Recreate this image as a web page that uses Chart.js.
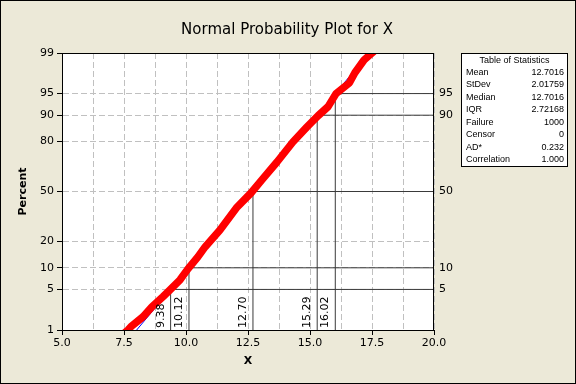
<!DOCTYPE html>
<html>
<head>
<meta charset="utf-8">
<script src="https://cdn.jsdelivr.net/npm/chart.js@4"></script>
<style>
  body { margin: 0; background: #ECE9D8; }
  canvas { display: block; }
</style>
</head>
<body>
<canvas id="probChart" width="576" height="384"></canvas>
<script>
// puncte (x, procent)
const dataX = [7.55, 7.66, 7.78, 8.27, 8.63, 9.07, 9.35, 9.76, 10.08, 10.48, 10.77, 11.37, 12.06, 12.62, 13.06, 13.67, 14.31, 14.88, 15.32, 15.73, 16.05, 16.59, 16.81, 17.18, 17.50, 17.60];
const dataPct = [0.9, 1.0, 1.16, 1.77, 2.65, 3.86, 4.9, 6.9, 9.7, 13.6, 17.6, 25.9, 39.7, 49.0, 57.7, 69.0, 79.7, 86.1, 89.8, 92.3, 95.0, 96.6, 97.7, 98.64, 99.0, 99.1];

// dreapta ajustată (albastru)
const fitX = [8.01, 17.39];
const fitPct = [1, 99];

// liniile de referință
const refPct = [5, 10, 50, 90, 95];
const refX = [9.38, 10.12, 12.70, 15.29, 16.02];

const yTickPct = [1, 5, 10, 20, 50, 80, 90, 95, 99];

const titleText = "Normal Probability Plot for X";
const statNames = ["Mean", "StDev", "Median", "IQR", "Failure", "Censor", "AD*", "Correlation"];
const statValues = ["12.7016", "2.01759", "12.7016", "2.72168", "1000", "0", "0.232", "1.000"];

// inversa funcției de repartiție normală (Acklam)
function probit(p) {
    const a = [-3.969683028665376e+01, 2.209460984245205e+02, -2.759285104469687e+02, 1.383577518672690e+02, -3.066479806614716e+01, 2.506628277459239e+00];
    const b = [-5.447609879822406e+01, 1.615858368580409e+02, -1.556989798598866e+02, 6.680131188771972e+01, -1.328068155288572e+01];
    const c = [-7.784894002430293e-03, -3.223964580411365e-01, -2.400758277161838e+00, -2.549732539343734e+00, 4.374664141464968e+00, 2.938163982698783e+00];
    const d = [7.784695709041462e-03, 3.224671290700398e-01, 2.445134137142996e+00, 3.754408661907416e+00];
    const pl = 0.02425;
    if (p < pl) {
        const q = Math.sqrt(-2 * Math.log(p));
        return (((((c[0]*q+c[1])*q+c[2])*q+c[3])*q+c[4])*q+c[5]) / ((((d[0]*q+d[1])*q+d[2])*q+d[3])*q+1);
    }
    if (p > 1 - pl) {
        const q = Math.sqrt(-2 * Math.log(1 - p));
        return -(((((c[0]*q+c[1])*q+c[2])*q+c[3])*q+c[4])*q+c[5]) / ((((d[0]*q+d[1])*q+d[2])*q+d[3])*q+1);
    }
    const q = p - 0.5, r = q * q;
    return (((((a[0]*r+a[1])*r+a[2])*r+a[3])*r+a[4])*r+a[5])*q / (((((b[0]*r+b[1])*r+b[2])*r+b[3])*r+b[4])*r+1);
}

function isMajor(v) {
    return Math.abs(v / 2.5 - Math.round(v / 2.5)) < 1e-6;
}

Chart.defaults.font.family = "'DejaVu Sans', sans-serif";
Chart.defaults.color = "#000";

const datasets = [];
datasets.push({
    data: dataX.map((x, i) => ({ x: x, y: probit(dataPct[i] / 100) })),
    showLine: true,
    borderColor: "#ff0000",
    borderWidth: 7.5,
    borderCapStyle: "round",
    borderJoinStyle: "round",
    pointRadius: 0,
    clip: 0,
    order: 0
});
datasets.push({
    data: fitX.map((x, i) => ({ x: x, y: probit(fitPct[i] / 100) })),
    showLine: true,
    borderColor: "#0000ff",
    borderWidth: 1,
    pointRadius: 0,
    clip: 0,
    order: 2
});
refPct.forEach((p, i) => {
    datasets.push({
        data: [
            { x: refX[i], y: probit(0.01) },
            { x: refX[i], y: probit(p / 100) },
            { x: 20, y: probit(p / 100) }
        ],
        showLine: true,
        borderColor: "#3a3a3a",
        borderWidth: 1,
        pointRadius: 0,
        clip: 0,
        order: 1
    });
});

const extras = {
    id: "extras",
    beforeDraw(chart) {
        const ctx = chart.ctx;
        const a = chart.chartArea;
        ctx.save();
        ctx.fillStyle = "#ECE9D8";
        ctx.fillRect(0, 0, chart.width, chart.height);
        ctx.fillStyle = "#fff";
        ctx.fillRect(a.left, a.top, a.right - a.left, a.bottom - a.top);
        // titlu
        ctx.fillStyle = "#000";
        ctx.font = "15px 'DejaVu Sans'";
        ctx.textAlign = "center";
        ctx.textBaseline = "middle";
        ctx.fillText(titleText, 287, 30);
        ctx.restore();
    },
    afterDatasetsDraw(chart) {
        const ctx = chart.ctx;
        const a = chart.chartArea;
        const xs = chart.scales.x, ys = chart.scales.y;
        ctx.save();
        // cadru zona grafic
        ctx.strokeStyle = "#000";
        ctx.lineWidth = 1;
        ctx.strokeRect(a.left + 0.5, a.top + 0.5, a.right - a.left - 1, a.bottom - a.top);
        // cadru exterior
        ctx.strokeRect(0.5, 0.5, chart.width - 1, chart.height - 1);

        // etichete la dreapta
        ctx.font = "11px 'DejaVu Sans'";
        ctx.fillStyle = "#000";
        ctx.textAlign = "left";
        ctx.textBaseline = "middle";
        refPct.forEach(p => {
            ctx.fillText(String(p), a.right + 5, ys.getPixelForValue(probit(p / 100)));
        });

        // etichete verticale
        ctx.textBaseline = "alphabetic";
        refX.forEach(v => {
            const px = xs.getPixelForValue(v);
            ctx.save();
            ctx.translate(px - 7, a.bottom - 2);
            ctx.rotate(-Math.PI / 2);
            ctx.fillText(v.toFixed(2), 0, 0);
            ctx.restore();
        });

        // tabel de statistici
        const bx = 461, by = 53, bw = 107, bh = 114;
        ctx.fillStyle = "#fff";
        ctx.fillRect(bx, by, bw, bh);
        ctx.strokeRect(bx + 0.5, by + 0.5, bw - 1, bh - 1);
        ctx.fillStyle = "#000";
        ctx.font = "9px 'Liberation Sans'";
        ctx.textBaseline = "middle";
        ctx.textAlign = "center";
        ctx.fillText("Table of Statistics", bx + bw / 2, by + 8);
        statNames.forEach((n, i) => {
            const y = by + 19.5 + i * 12.5;
            ctx.textAlign = "left";
            ctx.fillText(n, bx + 5, y);
            ctx.textAlign = "right";
            ctx.fillText(statValues[i], bx + bw - 4, y);
        });
        ctx.restore();
    }
};

new Chart(document.getElementById("probChart"), {
    type: "scatter",
    data: { datasets: datasets },
    options: {
        responsive: false,
        animation: false,
        events: [],
        layout: { padding: { left: 0, top: 53, right: 142, bottom: 0 } },
        plugins: {
            legend: { display: false },
            tooltip: { enabled: false },
            title: { display: false }
        },
        scales: {
            x: {
                type: "linear",
                min: 5,
                max: 20,
                afterFit(scale) { scale.height = 54; },
                ticks: {
                    stepSize: 1.25,
                    autoSkip: false,
                    maxRotation: 0,
                    padding: 2,
                    font: { size: 11 },
                    callback: v => isMajor(v) ? v.toFixed(1) : ""
                },
                grid: {
                    color: "#c0c0c0",
                    tickLength: 5,
                    tickColor: c => (c.tick && isMajor(c.tick.value)) ? "#000" : "rgba(0,0,0,0)"
                },
                border: { color: "#000", width: 1, dash: [6, 3] },
                title: {
                    display: true,
                    text: "X",
                    font: { size: 11, weight: "bold" },
                    padding: { top: 0, bottom: 16 }
                }
            },
            y: {
                type: "linear",
                min: probit(0.01),
                max: probit(0.99),
                afterFit(scale) { scale.width = 62; },
                afterBuildTicks(scale) {
                    scale.ticks = yTickPct.map(p => ({ value: probit(p / 100) }));
                },
                ticks: {
                    autoSkip: false,
                    padding: 3,
                    font: { size: 11 },
                    callback: (v, i) => String(yTickPct[i])
                },
                grid: {
                    color: "#c0c0c0",
                    tickLength: 5,
                    tickColor: "#000"
                },
                border: { color: "#000", width: 1, dash: [6, 3] },
                title: {
                    display: true,
                    text: "Percent",
                    font: { size: 11, weight: "bold" },
                    padding: { top: 17, bottom: 0 }
                }
            }
        }
    },
    plugins: [extras]
});
</script>
</body>
</html>
